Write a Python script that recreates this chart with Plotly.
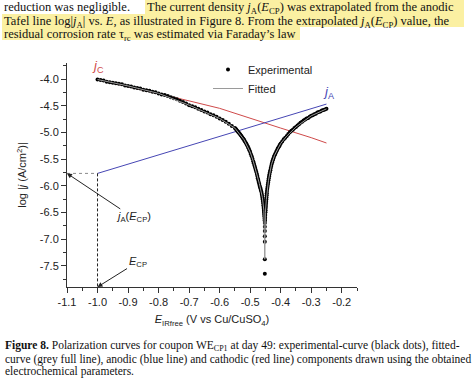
import plotly.graph_objects as go

# ---------------- data ----------------
# experimental points, cathodic (left) branch, down to the bottom of the dip
E_exp_left = [-1.00, -0.99, -0.98, -0.97, -0.96, -0.95, -0.94, -0.93, -0.92, -0.91,
              -0.90, -0.89, -0.88, -0.87, -0.86, -0.85, -0.84, -0.83, -0.82, -0.81,
              -0.80, -0.79, -0.78, -0.77, -0.76, -0.75, -0.74, -0.73, -0.72, -0.71,
              -0.70, -0.69, -0.68, -0.67, -0.66, -0.65, -0.64, -0.63, -0.62, -0.61,
              -0.60, -0.59, -0.58, -0.57, -0.56, -0.55, -0.5475, -0.545, -0.5425, -0.54,
              -0.5375, -0.535, -0.5325, -0.53, -0.5275, -0.525, -0.5225, -0.52, -0.5175, -0.515,
              -0.5125, -0.51, -0.5075, -0.505, -0.5025, -0.50, -0.4975, -0.495, -0.4925, -0.49,
              -0.488, -0.486, -0.484, -0.482, -0.480, -0.478, -0.4765, -0.475, -0.4735, -0.472,
              -0.4705, -0.469, -0.4675, -0.466, -0.4645, -0.463, -0.462, -0.461, -0.460, -0.459,
              -0.458, -0.457, -0.4565, -0.456, -0.4555, -0.455, -0.4545, -0.454, -0.4535, -0.453,
              -0.4525, -0.452, -0.452, -0.452, -0.452, -0.452, -0.452, -0.452]
logj_exp_left = [-4.01, -4.02, -4.03, -4.05, -4.06, -4.07, -4.08, -4.09, -4.10, -4.12,
                 -4.13, -4.14, -4.16, -4.17, -4.18, -4.20, -4.21, -4.22, -4.24, -4.25,
                 -4.27, -4.29, -4.30, -4.32, -4.34, -4.36, -4.38, -4.41, -4.43, -4.46,
                 -4.49, -4.51, -4.53, -4.56, -4.58, -4.61, -4.63, -4.66, -4.68, -4.71,
                 -4.74, -4.77, -4.80, -4.84, -4.88, -4.92, -4.935, -4.95, -4.97, -4.99,
                 -5.005, -5.02, -5.04, -5.06, -5.08, -5.10, -5.12, -5.14, -5.165, -5.19,
                 -5.215, -5.24, -5.27, -5.30, -5.335, -5.37, -5.41, -5.45, -5.495, -5.54,
                 -5.58, -5.62, -5.66, -5.70, -5.74, -5.78, -5.82, -5.86, -5.895, -5.93,
                 -5.965, -6.00, -6.03, -6.06, -6.09, -6.12, -6.155, -6.19, -6.225, -6.26,
                 -6.295, -6.33, -6.365, -6.40, -6.435, -6.47, -6.505, -6.54, -6.58, -6.62,
                 -6.66, -6.70, -6.77, -6.85, -6.95, -7.05, -7.38, -7.65]
# experimental points, anodic (right) branch
E_exp_right = [-0.4515, -0.451, -0.4505, -0.450, -0.4495, -0.449, -0.4485, -0.448, -0.4475, -0.447,
               -0.4465, -0.446, -0.4455, -0.445, -0.444, -0.443, -0.442, -0.441, -0.440, -0.439,
               -0.438, -0.437, -0.4355, -0.434, -0.4325, -0.431, -0.4295, -0.428, -0.426, -0.424,
               -0.422, -0.420, -0.4175, -0.415, -0.4125, -0.410, -0.4075, -0.405, -0.4025, -0.400,
               -0.395, -0.390, -0.385, -0.380, -0.375, -0.370, -0.365, -0.360, -0.355, -0.350,
               -0.345, -0.340, -0.335, -0.330, -0.325, -0.320, -0.315, -0.310, -0.305, -0.300,
               -0.295, -0.290, -0.285, -0.280, -0.275, -0.270, -0.265, -0.260, -0.255, -0.250]
logj_exp_right = [-6.65, -6.60, -6.55, -6.50, -6.46, -6.42, -6.38, -6.34, -6.30, -6.26,
                  -6.22, -6.18, -6.14, -6.10, -6.06, -6.02, -5.98, -5.94, -5.90, -5.86,
                  -5.825, -5.79, -5.75, -5.71, -5.67, -5.63, -5.595, -5.56, -5.525, -5.49,
                  -5.46, -5.43, -5.40, -5.37, -5.34, -5.31, -5.285, -5.26, -5.235, -5.21,
                  -5.17, -5.13, -5.10, -5.07, -5.03, -5.00, -4.97, -4.95, -4.92, -4.90,
                  -4.87, -4.85, -4.82, -4.80, -4.78, -4.76, -4.74, -4.73, -4.71, -4.69,
                  -4.68, -4.66, -4.65, -4.63, -4.62, -4.61, -4.59, -4.58, -4.57, -4.56]

E_fit = [-1.00, -0.90, -0.80, -0.70, -0.60, -0.55, -0.52, -0.50, -0.49, -0.48,
         -0.47, -0.46, -0.455, -0.452, -0.450, -0.447, -0.444, -0.440, -0.430, -0.420,
         -0.400, -0.380, -0.350, -0.300, -0.250]
logj_fit = [-4.01, -4.13, -4.27, -4.49, -4.74, -4.92, -5.14, -5.37, -5.54, -5.74,
            -5.96, -6.22, -6.47, -7.38, -6.50, -6.26, -6.06, -5.90, -5.60, -5.43,
            -5.21, -5.07, -4.90, -4.69, -4.56]

E_cath = [-1.00, -0.90, -0.80, -0.70, -0.60, -0.50, -0.40, -0.30, -0.25]
logj_cath = [-4.01, -4.14, -4.27, -4.41, -4.55, -4.74, -4.92, -5.10, -5.20]

E_anod = [-1.00, -0.25]
logj_anod = [-5.77, -4.47]

E_CP = -1.00
log_jA_ECP = -5.77

x_range = [-1.1, -0.15]
y_range = [-7.9, -3.7]
x_ticks = [-1.1, -1.0, -0.9, -0.8, -0.7, -0.6, -0.5, -0.4, -0.3, -0.2]
x_tick_labels = ["-1.1", "-1.0", "-0.9", "-0.8", "-0.7", "-0.6", "-0.5", "-0.4", "-0.3", "-0.2"]
y_ticks = [-7.5, -7.0, -6.5, -6.0, -5.5, -5.0, -4.5, -4.0]
y_tick_labels = ["-7.5", "-7.0", "-6.5", "-6.0", "-5.5", "-5.0", "-4.5", "-4.0"]

# ---------------- layout geometry ----------------
W, H = 474, 378
L, R, T, B = 67, 117, 63, 91
PW, PH = W - L - R, H - T - B


def px(xp):
    return (xp - L) / PW


def py(yp):
    return (H - B - yp) / PH


SANS = "Liberation Sans, Arial, sans-serif"
SERIF = "Liberation Serif, Times New Roman, serif"
RED = "#cf4a4a"
BLUE = "#4646b4"
HL = "#fbf0a2"

fig = go.Figure()

fig.add_trace(go.Scatter(x=E_cath, y=logj_cath, mode="lines", line=dict(color=RED, width=1),
                         showlegend=False, hoverinfo="skip"))
fig.add_trace(go.Scatter(x=E_anod, y=logj_anod, mode="lines", line=dict(color=BLUE, width=1),
                         showlegend=False, hoverinfo="skip"))
fig.add_trace(go.Scatter(x=[x_range[0], E_CP], y=[log_jA_ECP, log_jA_ECP], mode="lines",
                         line=dict(color="#8a8a8a", width=1, dash="dot"), showlegend=False))
fig.add_trace(go.Scatter(x=[E_CP, E_CP], y=[log_jA_ECP, y_range[0]], mode="lines",
                         line=dict(color="#222", width=1, dash="3px,2px"), showlegend=False))
fig.add_trace(go.Scatter(x=E_exp_left + E_exp_right, y=logj_exp_left + logj_exp_right,
                         mode="markers", name="Experimental",
                         marker=dict(color="black", size=4)))
fig.add_trace(go.Scatter(x=E_fit, y=logj_fit, mode="lines", name="Fitted",
                         line=dict(color="#9a9a9a", width=1)))

axis_common = dict(showline=True, linecolor="#333", linewidth=1, ticks="outside", ticklen=5,
                   tickcolor="#333", showgrid=False, zeroline=False,
                   tickfont=dict(family=SANS, size=11, color="#222"))

fig.update_xaxes(range=x_range, tickmode="array", tickvals=x_ticks, ticktext=x_tick_labels,
                 minor=dict(ticks="outside", ticklen=3, tickcolor="#333", tickmode="linear",
                            tick0=-1.1, dtick=0.05),
                 title=dict(text="<i>E</i><sub>IRfree</sub> (V vs Cu/CuSO<sub>4</sub>)",
                            font=dict(family=SANS, size=11, color="#222"), standoff=8),
                 **axis_common)
fig.update_yaxes(range=y_range, tickmode="array", tickvals=y_ticks, ticktext=y_tick_labels,
                 minor=dict(ticks="outside", ticklen=3, tickcolor="#333", tickmode="linear",
                            tick0=-7.5, dtick=0.25),
                 title=dict(text="log |<i>j</i> (A/cm<sup>2</sup>)|",
                            font=dict(family=SANS, size=11, color="#222"), standoff=10),
                 **axis_common)

annotations = [
    # curve labels
    dict(x=-1.0, y=-3.76, xref="x", yref="y", text="<i>j</i><sub>C</sub>", showarrow=False,
         font=dict(family=SANS, size=13, color=RED)),
    dict(x=-0.243, y=-4.26, xref="x", yref="y", text="<i>j</i><sub>A</sub>", showarrow=False,
         font=dict(family=SANS, size=13, color=BLUE)),
    # arrows
    dict(x=x_range[0], y=log_jA_ECP, xref="x", yref="y", ax=66, ay=44,
         text="<i>j</i><sub>A</sub>(<i>E</i><sub>CP</sub>)", showarrow=True, arrowhead=2,
         arrowsize=1, arrowwidth=1, arrowcolor="#222", font=dict(family=SANS, size=11, color="#222")),
    dict(x=E_CP, y=y_range[0], xref="x", yref="y", ax=40, ay=-25,
         text="<i>E</i><sub>CP</sub>", showarrow=True, arrowhead=2,
         arrowsize=1, arrowwidth=1, arrowcolor="#222", font=dict(family=SANS, size=11, color="#222")),
]

# paragraph above the figure (top edge of each text line given)
para = [
    (3, -1, "reduction was negligible."),
    (146, -1, "The current density <i>j</i><sub>A</sub>(<i>E</i><sub>CP</sub>) was extrapolated from the anodic"),
    (3, 13, "Tafel line log|<i>j</i><sub>A</sub>| vs. <i>E</i>, as illustrated in Figure 8. From the extrapolated <i>j</i><sub>A</sub>(<i>E</i><sub>CP</sub>) value, the"),
    (3, 26, "residual corrosion rate τ<sub>rc</sub> was estimated via Faraday’s law"),
]
for xp, yp, txt in para:
    annotations.append(dict(x=px(xp), y=py(yp), xref="paper", yref="paper", xanchor="left",
                            yanchor="top", text=txt, showarrow=False, align="left", borderpad=0,
                            font=dict(family=SERIF, size=12.5, color="#111")))

# highlight bands behind the paragraph: (x0, x1, y0, y1) in pixels
highlights = [(145, 464, 0, 14), (2, 464, 14, 27), (2, 300, 27, 40)]
shapes = [dict(type="rect", xref="paper", yref="paper", x0=px(a), x1=px(b), y0=py(d), y1=py(c),
               fillcolor=HL, line=dict(width=0), layer="below") for a, b, c, d in highlights]

# figure caption
caption = [
    (3, 346, "<b>Figure 8.</b> Polarization curves for coupon WE<sub>CP1</sub> at day 49: experimental-curve (black dots), fitted-"),
    (3, 359, "curve (grey full line), anodic (blue line) and cathodic (red line) components drawn using the obtained"),
    (3, 371, "electrochemical parameters."),
]
for xp, yp, txt in caption:
    annotations.append(dict(x=px(xp), y=py(yp), xref="paper", yref="paper", xanchor="left",
                            yanchor="middle", text=txt, showarrow=False, align="left",
                            font=dict(family=SERIF, size=11.5, color="#111")))

fig.update_layout(
    width=W, height=H, margin=dict(l=L, r=R, t=T, b=B, autoexpand=False),
    paper_bgcolor="white", plot_bgcolor="white",
    annotations=annotations, shapes=shapes,
    legend=dict(x=px(208), y=py(55), xanchor="left", yanchor="top",
                bgcolor="rgba(0,0,0,0)", font=dict(family=SANS, size=11, color="#222")),
)

fig.write_html("out.html", config={"displayModeBar": False},
               post_script="document.body.style.margin='0px';")
